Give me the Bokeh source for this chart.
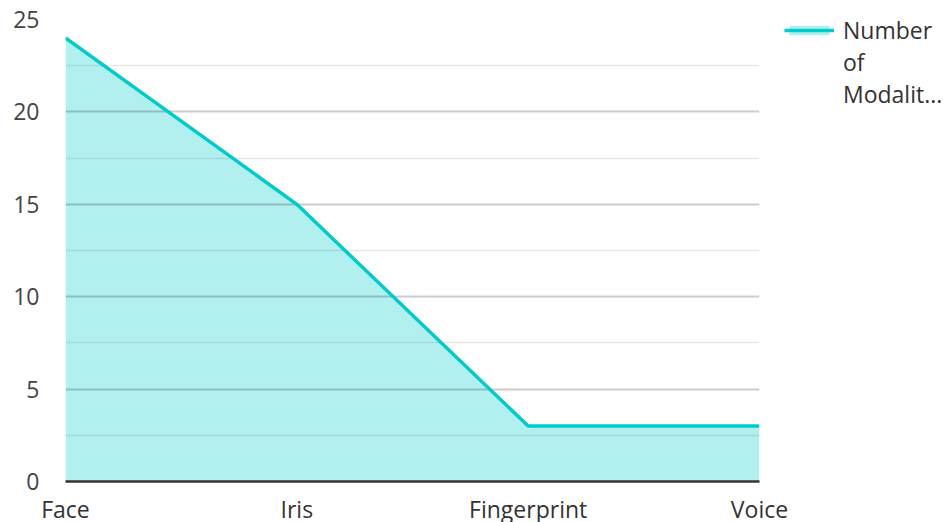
from bokeh.plotting import figure
from bokeh.models import Range1d, FixedTicker, Legend, LegendItem, ColumnDataSource
from bokeh.embed import file_html
from bokeh.resources import INLINE

categories = ["Face", "Iris", "Fingerprint", "Voice"]
values = [24, 15, 3, 3]
y_ticks = [0, 5, 10, 15, 20, 25]
y_minor = [2.5, 7.5, 12.5, 17.5, 22.5]
series_name = "Number of Modalit..."

xs = list(range(len(categories)))
src = ColumnDataSource(dict(x=xs, y=values, base=[0] * len(xs)))

FONT = "Open Sans"
FW, FH = 694, 462
p = figure(frame_width=FW, frame_height=FH, output_backend="svg", toolbar_location=None,
           x_range=Range1d(0, len(categories) - 1), y_range=Range1d(0, 25),
           min_border_left=65, min_border_top=19, min_border_bottom=33, min_border_right=185)
p.outline_line_color = None

area = p.varea(x="x", y1="base", y2="y", source=src, fill_color="#b2efef", level="image")
line = p.line(x="x", y="y", source=src, line_color="#00cccc", line_width=3.5)

p.xaxis.ticker = FixedTicker(ticks=xs)
p.xaxis.major_label_overrides = {i: c for i, c in enumerate(categories)}
p.xaxis.axis_line_color = "#333333"
p.xaxis.axis_line_width = 2.5
p.xaxis.major_tick_line_color = None
p.xaxis.minor_tick_line_color = None
p.xaxis.major_label_standoff = 5
p.xaxis.major_label_text_font = FONT
p.xaxis.major_label_text_font_size = "23px"
p.xaxis.major_label_text_color = "#333333"

p.yaxis.ticker = FixedTicker(ticks=y_ticks, minor_ticks=y_minor)
p.yaxis.axis_line_color = None
p.yaxis.major_tick_line_color = None
p.yaxis.minor_tick_line_color = None
p.yaxis.major_label_standoff = 20
p.yaxis.major_label_text_font = FONT
p.yaxis.major_label_text_font_size = "23px"
p.yaxis.major_label_text_color = "#444444"

p.xgrid.grid_line_color = None
p.ygrid.grid_line_color = "#000000"
p.ygrid.grid_line_alpha = 0.2
p.ygrid.grid_line_width = 2
p.ygrid.minor_grid_line_color = "#000000"
p.ygrid.minor_grid_line_alpha = 0.09
p.ygrid.minor_grid_line_width = 1.5

words = series_name.split(" ")
items = [LegendItem(label=words[0], renderers=[area, line])]
items += [LegendItem(label=w, renderers=[]) for w in words[1:]]

legend = Legend(items=items,
                location=(25, FH - 91), margin=0, padding=10, spacing=0,
                glyph_width=50, glyph_height=12, label_standoff=9,
                label_height=32,
                label_text_font=FONT, label_text_font_size="23px",
                label_text_color="#333333", label_text_line_height=1.39,
                border_line_color=None, background_fill_alpha=0)
p.add_layout(legend, "right")

open("out.html", "w").write(file_html(p, INLINE))
